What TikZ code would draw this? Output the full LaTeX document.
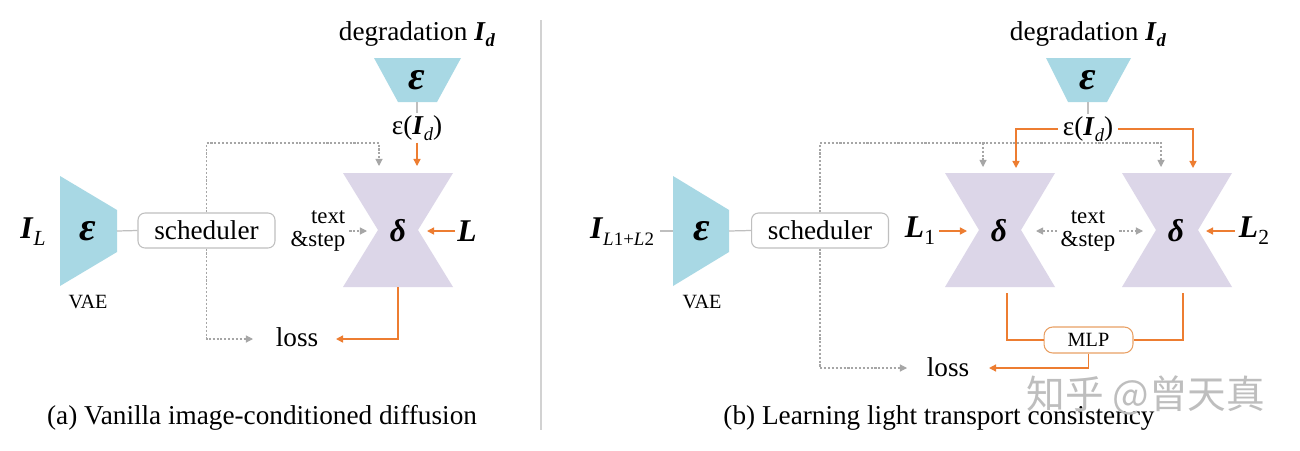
\documentclass[tikz,border=0pt]{standalone}
\usepackage{fontspec}
\setmainfont{Liberation Serif}
\newfontfamily\cjkfont{Noto Sans CJK SC}
\usetikzlibrary{arrows.meta}
\definecolor{encblue}{HTML}{A8D8E4}
\definecolor{hglav}{HTML}{DCD6E8}
\definecolor{orng}{HTML}{ED7D31}
\definecolor{mlpborder}{HTML}{E9A064}
\definecolor{gdot}{HTML}{A6A6A6}
\definecolor{gsolid}{HTML}{BFBFBF}
\definecolor{wmark}{HTML}{BEBEBE}
\newcommand\bi[1]{\textbf{\textit{#1}}}
\newcommand\sbs[1]{\raisebox{-0.22em}{\scalebox{0.68}{#1}}}
\newcommand\sbsn[1]{\raisebox{-0.22em}{\scalebox{0.6}{#1}}}
\tikzset{
  encfill/.style={fill=encblue, draw=none},
  hgfill/.style={fill=hglav, draw=none},
  lbl/.style={inner sep=1pt, font=\fontsize{15.5}{18}\selectfont},
  small/.style={inner sep=1pt, font=\fontsize{13}{12}\selectfont},
  tiny/.style={inner sep=1pt, font=\fontsize{11.5}{13}\selectfont},
  sym/.style={inner sep=1pt, font=\fontsize{18}{20}\selectfont},
  bigsym/.style={inner sep=1pt, font=\fontsize{23}{24}\selectfont},
  schedbox/.style={draw=gsolid, line width=0.6pt, rounded corners=4pt, minimum width=2.74cm, minimum height=0.7cm, inner sep=0pt, font=\fontsize{15.5}{18}\selectfont},
  mlpbox/.style={draw=mlpborder, line width=0.6pt, rounded corners=5pt, minimum width=1.78cm, minimum height=0.52cm, inner sep=0pt, font=\fontsize{11.5}{13}\selectfont},
  gline/.style={draw=gsolid, line width=0.7pt},
  garr/.style={draw=gdot, line width=0.6pt, dash pattern=on 1.2pt off 1pt, -{Triangle[length=4pt,width=4pt]}},
  oarr/.style={draw=orng, line width=0.8pt, -{Triangle[length=4pt,width=4pt]}},
  oline/.style={draw=orng, line width=0.8pt},
}
\begin{document}
\begin{tikzpicture}[x=0.02cm,y=-0.02cm]
\useasboundingbox (0,0) rectangle (1300,450);
\fill[white] (0,0) rectangle (1300,450);

% divider
\draw[gsolid!70, line width=0.6pt] (541,20) -- (541,430);

% ================= panel (a) =================
\fill[encfill] (60,176) -- (117,210) -- (117,252) -- (60,286) -- cycle;
\node[bigsym] (encL) at (88,231) {\bi{ε}};
\node[tiny] (vaeL) at (88,302) {VAE};
\node[sym] (IL) at (33,232) {\bi{I}\sbs{\textit{L}}};
\coordinate (encLr) at (117,231);
\node[schedbox] (schL) at (206.5,230.5) {scheduler};
\draw[gline] (encLr) -- (schL.west);

\node[lbl] (degL) at (417,34) {degradation \bi{I}\sbs{\textit{\textbf{d}}}};
\fill[encfill] (374,58) -- (461,58) -- (437,102) -- (398,102) -- cycle;
\node[bigsym] (encTL) at (417,80) {\bi{ε}};
\coordinate (encTLb) at (417,102);
\node[lbl] (epsL) at (417,128) {ε(\bi{I}\sbs{\textit{d}})};
\draw[gline] (encTLb) -- (epsL.north);
\coordinate (hgLtopO) at (417,166);
\draw[oarr] (epsL.south) -- (hgLtopO);

\fill[hgfill] (343,173) -- (453,173) -- (418,230) -- (453,287) -- (343,287) -- (378,230) -- cycle;
\node[sym] (dL) at (398,231) {\bi{δ}};
\node[sym] (LL) at (467,231) {\bi{L}};
\coordinate (LLtip) at (427,231);
\draw[oarr] (LL.west) -- (LLtip);

\node[small, align=right] (tsL) at (318,231) {text\\[1pt]\&step};
\coordinate (tsLtip) at (367,231);
\draw[garr] (tsL.east) ++(2,0) -- (tsLtip);

\coordinate (hgLtopG) at (379,166);
\draw[garr] (schL.north) -- (206.5,143) -| (hgLtopG);
\node[lbl] (lossL) at (297,337) {loss};
\coordinate (lossLin) at (253,339);
\draw[garr] (schL.south) |- (lossLin);
\coordinate (hgLbot) at (398,287);
\coordinate (lossLo) at (336,339);
\draw[oarr] (hgLbot) |- (lossLo);

\node[lbl] (capA) at (262,418) {(a) Vanilla image-conditioned diffusion};

% ================= panel (b) =================
\fill[encfill] (673,176) -- (729,210) -- (729,252) -- (673,286) -- cycle;
\node[bigsym] (encR) at (702,231) {\bi{ε}};
\node[tiny] (vaeR) at (702,302) {VAE};
\node[sym] (IR) at (622,232) {\bi{I}\sbsn{\textit{L}1+\textit{L}2}};
\coordinate (encRl) at (673,231);
\coordinate (encRr) at (729,231);
\draw[gline] (IR.east) ++(4,-1) -- (encRl);
\node[schedbox] (schR) at (820,230.5) {scheduler};
\draw[gline] (encRr) -- (schR.west);

\node[lbl] (degR) at (1088,34) {degradation \bi{I}\sbs{\textit{\textbf{d}}}};
\fill[encfill] (1046,58) -- (1131,58) -- (1107,102) -- (1068,102) -- cycle;
\node[bigsym] (encTR) at (1088,80) {\bi{ε}};
\coordinate (encTRb) at (1088,102);
\node[lbl] (epsR) at (1088,129) {ε(\bi{I}\sbs{\textit{d}})};
\draw[gline] (encTRb) -- (epsR.north);

% hourglass 1 and 2
\fill[hgfill] (945,173) -- (1055,173) -- (1021,230) -- (1055,287) -- (945,287) -- (979,230) -- cycle;
\fill[hgfill] (1122,173) -- (1232,173) -- (1198,230) -- (1232,287) -- (1122,287) -- (1156,230) -- cycle;
\node[sym] (d1) at (999,231) {\bi{δ}};
\node[sym] (d2) at (1176,231) {\bi{δ}};

\coordinate (h1O) at (1016,168);
\coordinate (h2O) at (1193,168);
\draw[oarr] (epsR.west) ++(-3,0) -| (h1O);
\draw[oarr] (epsR.east) ++(3,0) -| (h2O);

\coordinate (h1G) at (983,167);
\coordinate (h2G) at (1161,167);
\coordinate (gTopR) at (820,143);
\draw[garr] (schR.north) -- (gTopR) -| (h2G);
\draw[garr] (h1G |- gTopR) -- (h1G);

\node[sym] (L1) at (920,231) {\bi{L}\sbs{1}};
\coordinate (L1tip) at (967,231);
\draw[oarr] (L1.east) ++(2,0) -- (L1tip);
\node[sym] (L2) at (1254,231) {\bi{L}\sbs{2}};
\coordinate (L2tip) at (1206,231);
\draw[oarr] (L2.west) ++(-2,0) -- (L2tip);

\node[small, align=center] (tsR) at (1088,231) {text\\[1pt]\&step};
\coordinate (tsRl) at (1036,231);
\coordinate (tsRr) at (1143,231);
\draw[garr] (tsR.west) ++(-2,0) -- (tsRl);
\draw[garr] (tsR.east) ++(2,0) -- (tsRr);

\node[mlpbox] (mlp) at (1088.5,340) {MLP};
\coordinate (h1B) at (1007,293);
\coordinate (h2B) at (1183,293);
\draw[oline] (h1B) |- (mlp.west);
\draw[oline] (h2B) |- (mlp.east);

\node[lbl] (lossR) at (948,367) {loss};
\coordinate (lossRo) at (989,368);
\draw[oarr] (mlp.south) |- (lossRo);
\coordinate (lossRin) at (907,368);
\draw[garr] (schR.south) |- (lossRin);

\node[lbl] (capB) at (939,418) {(b) Learning light transport consistency};

\node[inner sep=0, text=wmark, font=\cjkfont\fontsize{22}{24}\selectfont] (wm) at (1146,395) {知乎 @曾天真};
\end{tikzpicture}
\end{document}
